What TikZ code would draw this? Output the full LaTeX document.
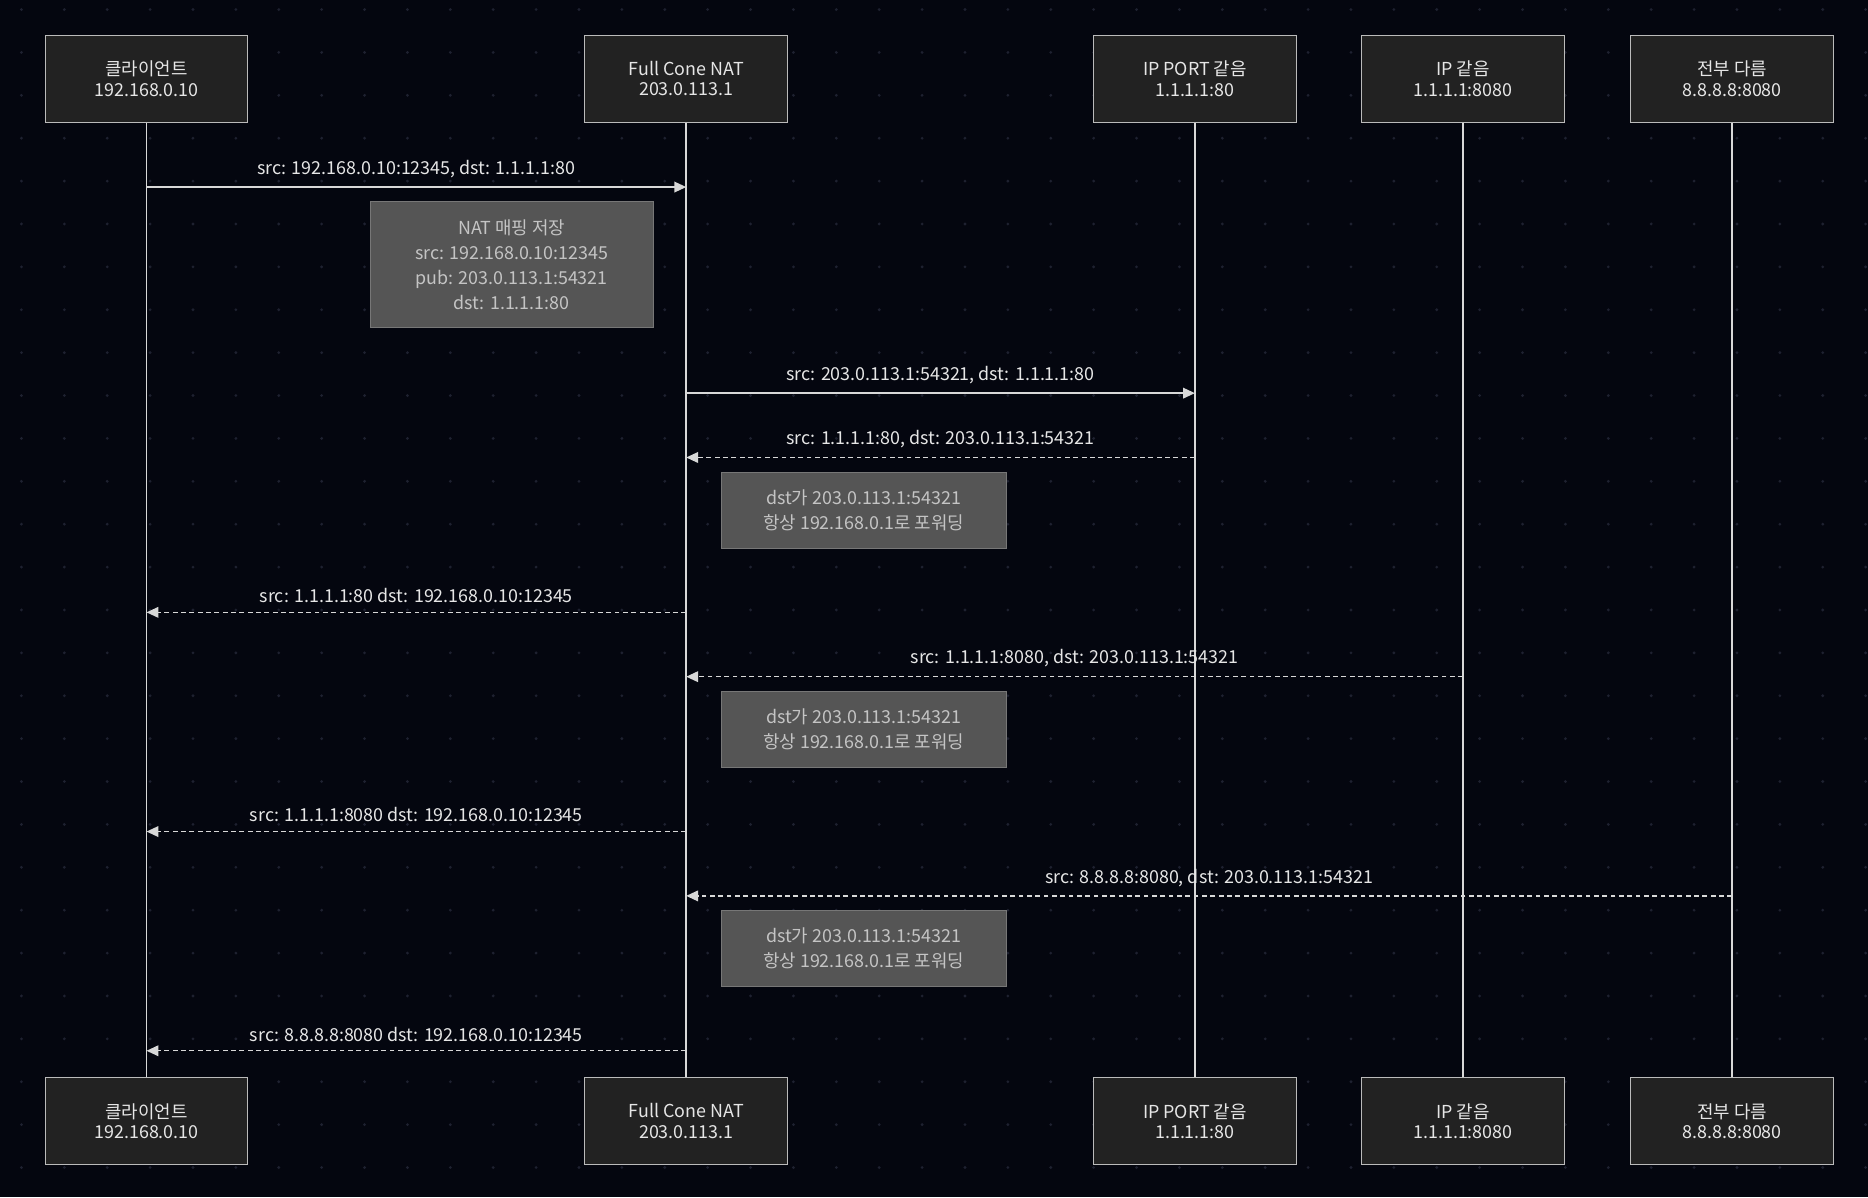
\documentclass[tikz,border=0pt]{standalone}
\usepackage{fontspec}
\setmainfont{Noto Sans CJK KR}
\usetikzlibrary{arrows.meta}
\definecolor{bg}{HTML}{04060F}
\definecolor{boxf}{HTML}{222222}
\definecolor{boxd}{HTML}{BBBBBB}
\definecolor{notef}{HTML}{555555}
\definecolor{txt}{HTML}{E6E6E6}
\definecolor{ln}{HTML}{D8D8D8}
\definecolor{dotc}{HTML}{1E2130}
\tikzset{
 actor/.style={draw=boxd,fill=boxf,line width=0.8pt,minimum width=170pt,minimum height=73pt,text=txt,align=center,font=\fontsize{15}{17}\selectfont},
 note/.style={draw=notef!80!white,fill=notef,text=txt!85!black,align=center,font=\fontsize{15}{21}\selectfont,inner sep=0pt},
 life/.style={ln,line width=1.2pt},
 msg/.style={ln,line width=1.2pt,-{Triangle[length=10pt,width=9pt]}},
 rmsg/.style={msg,dashed,dash pattern=on 4pt off 3pt},
 lbl/.style={text=txt,font=\fontsize{15}{17}\selectfont}
}
\begin{document}
\begin{tikzpicture}[x=1pt,y=-1pt]
\fill[bg] (0,0) rectangle (1568,1005);
\useasboundingbox (0,0) rectangle (1568,1005);
\foreach \i in {0,...,43}{\foreach \j in {0,...,28}{\fill[dotc] (18+36*\i,8+36*\j) circle (1.3pt);}}
\foreach \n/\x/\t in {a/123/{클라이언트\\192.168.0.10},b/576/{Full Cone NAT\\203.0.113.1},c/1003/{IP PORT 같음\\1.1.1.1:80},d/1228/{IP 같음\\1.1.1.1:8080},e/1454/{전부 다름\\8.8.8.8:8080}}{
 \node[actor] (\n t) at (\x,66) {\t};
 \node[actor] (\n b) at (\x,941) {\t};
 \draw[life] (\n t.south) -- (\n b.north);
}
\foreach \n/\x in {a/123,b/576,c/1003,d/1228,e/1454}{
 \foreach \k/\y in {1/157,2/330,3/384,4/514,5/568,6/698,7/752,8/882}{\coordinate (\n\k) at (\x,\y);}}
\draw[msg] (a1) -- node[lbl,above=4pt] {src: 192.168.0.10:12345, dst: 1.1.1.1:80} (b1);
\node[note,minimum width=237pt,minimum height=106pt] (n1) at (429.5,222) {NAT 매핑 저장\\src: 192.168.0.10:12345\\pub: 203.0.113.1:54321\\dst: 1.1.1.1:80};
\draw[msg] (b2) -- node[lbl,above=4pt] {src: 203.0.113.1:54321, dst: 1.1.1.1:80} (c2);
\draw[rmsg] (c3) -- node[lbl,above=4pt] {src: 1.1.1.1:80, dst: 203.0.113.1:54321} (b3);
\node[note,minimum width=240pt,minimum height=64pt] (n2) at (725,428) {dst가 203.0.113.1:54321\\항상 192.168.0.1로 포워딩};
\draw[rmsg] (b4) -- node[lbl,above=4pt] {src: 1.1.1.1:80 dst: 192.168.0.10:12345} (a4);
\draw[rmsg] (d5) -- node[lbl,above=4pt] {src: 1.1.1.1:8080, dst: 203.0.113.1:54321} (b5);
\node[note,minimum width=240pt,minimum height=64pt] (n3) at (725,612) {dst가 203.0.113.1:54321\\항상 192.168.0.1로 포워딩};
\draw[rmsg] (b6) -- node[lbl,above=4pt] {src: 1.1.1.1:8080 dst: 192.168.0.10:12345} (a6);
\draw[rmsg] (e7) -- node[lbl,above=4pt] {src: 8.8.8.8:8080, dst: 203.0.113.1:54321} (b7);
\node[note,minimum width=240pt,minimum height=64pt] (n4) at (725,796) {dst가 203.0.113.1:54321\\항상 192.168.0.1로 포워딩};
\draw[rmsg] (b8) -- node[lbl,above=4pt] {src: 8.8.8.8:8080 dst: 192.168.0.10:12345} (a8);
\end{tikzpicture}
\end{document}
